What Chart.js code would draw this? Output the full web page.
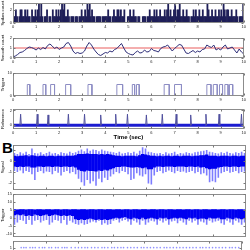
<!DOCTYPE html>
<html><head><meta charset="utf-8">
<script src="https://cdn.jsdelivr.net/npm/chart.js@4.4.1/dist/chart.umd.min.js"></script>
<style>
body{margin:0;width:250px;height:250px;overflow:hidden;background:#fff;position:relative}
canvas{position:absolute;left:0}
#lblB{position:absolute;left:2px;top:139px;font:bold 15px "Liberation Sans",Arial,sans-serif;color:#000}
</style></head><body>
<div id="lblB">B</div>
<canvas id="c1" width="247" height="29" style="top:0px"></canvas>
<canvas id="c2" width="247" height="30" style="top:34px"></canvas>
<canvas id="c3" width="247" height="33" style="top:69px"></canvas>
<canvas id="c4" width="247" height="36" style="top:105px"></canvas>
<canvas id="c5" width="246" height="52" style="top:141px"></canvas>
<canvas id="c6" width="246" height="50" style="top:190px"></canvas>
<canvas id="c7" width="246" height="28" style="top:237px"></canvas>
<script>
// ---------- DATA ----------
const timeTicks = [0,1,2,3,4,5,6,7,8,9,10];
const spikeBin = 0.05;
const spikeCounts = [
 1,1,2,1,0,1,2,2,1,1,2,1,2,1,1,0,2,1,1,2,
 1,2,3,1,3,1,0,1,1,2,0,1,1,0,2,1,1,2,1,2,
 1,2,3,2,3,1,1,2,1,0,1,1,1,0,1,1,0,1,1,2,
 1,1,2,1,3,2,3,1,2,1,1,0,1,1,1,1,0,1,1,1,
 1,1,2,1,1,0,1,2,1,1,2,2,1,2,1,1,2,0,0,1,
 1,2,1,1,2,1,1,0,1,1,0,0,1,1,1,0,1,1,2,1,
 1,1,2,1,2,1,1,2,1,1,1,2,1,2,3,1,2,1,1,2,
 3,1,2,2,3,1,1,2,1,1,2,1,1,0,1,1,2,1,2,1,
 1,2,1,1,2,1,1,1,3,2,1,1,2,1,1,2,1,1,2,1,
 2,1,3,2,1,2,2,1,1,2,1,1,1,2,1,0,1,1,1,3];
const spikeYTicks = [0,1,2,3];

const smoothStep = 0.1;
const smoothCount = [
 0.1,0.2,0.35,0.55,0.6,0.75,0.95,1.1,1.05,0.95,
 0.8,1.0,0.85,1.05,0.9,1.25,1.4,1.2,0.95,1.1,
 0.85,1.0,1.1,1.45,1.55,1.2,0.7,0.45,0.55,0.45,
 0.5,0.7,1.2,1.55,1.3,0.9,0.6,0.35,0.25,0.4,
 0.55,0.5,0.7,0.6,0.85,0.95,1.2,1.45,1.0,0.6,
 0.45,0.35,0.3,0.55,0.7,0.5,0.55,0.8,0.6,0.65,
 0.95,0.75,0.7,0.6,0.95,1.1,1.15,1.3,1.0,0.7,
 0.95,1.15,1.35,1.3,0.9,0.5,0.45,0.6,0.75,0.55,
 0.7,0.6,0.85,0.9,1.3,1.15,1.05,1.3,0.8,0.95,
 0.8,1.1,1.3,0.9,1.0,1.1,0.8,0.5,0.9,0.6,0.4];
const smoothThreshold = 1;
const smoothYTicks = [0,1,2];

const trigStart = [0.62,1.30,1.63,2.28,3.25,4.50,5.17,5.35,6.55,7.00,8.40,8.68,8.95,9.18,9.38];
const trigEnd   = [0.73,1.42,1.80,2.50,3.42,4.75,5.27,5.47,6.77,7.30,8.58,8.85,9.08,9.32,9.52];
const trigLevel = 5;
const trigYTicks = [0,10];

const refTimes = [0.33,1.05,1.52,2.40,3.10,3.80,4.45,4.96,5.78,6.47,7.07,7.70,8.36,8.93,9.90];
const refPeaks = [1.5,1.5,1.4,1.5,1.5,1.4,1.5,1.5,1.4,1.5,1.5,1.4,1.5,1.5,1.5];
const refYTicks = [0,2];

const bTicks = [0,1,2,3,4,5,6,7];
const bBin = 7/80;
const sigHi = [
 0.7,0.6,0.75,0.65,0.8,0.6,1.1,0.7,0.65,0.75,
 0.6,0.7,0.8,0.65,0.7,0.6,0.75,0.7,0.65,0.8,
 0.7,0.75,0.9,1.0,0.85,1.1,0.9,1.0,0.95,0.85,
 1.0,0.9,0.85,0.8,0.75,0.7,0.8,0.65,0.7,0.75,
 0.7,0.8,0.65,0.9,1.2,1.1,0.8,0.75,0.7,0.65,
 0.7,0.6,0.75,0.65,0.7,0.8,0.6,0.7,0.65,0.75,
 0.7,0.65,0.75,0.8,0.85,0.9,0.95,0.8,0.75,0.7,
 0.65,0.75,0.7,0.8,0.7,0.65,0.75,0.7,0.8,0.7];
const sigLo = [
 -0.9,-1.0,-0.85,-1.1,-0.9,-1.0,-1.2,-1.7,-1.0,-0.9,
 -1.1,-0.95,-1.0,-1.2,-0.9,-1.05,-1.3,-1.0,-0.9,-1.1,
 -1.0,-1.2,-1.6,-1.9,-2.2,-1.7,-2.0,-1.8,-2.2,-1.6,
 -1.9,-1.5,-1.7,-1.4,-1.2,-1.0,-1.1,-0.9,-1.0,-1.2,
 -1.7,-1.6,-1.1,-1.3,-1.4,-1.2,-2.0,-2.1,-1.3,-1.0,
 -0.9,-1.1,-1.0,-0.85,-1.0,-1.1,-0.9,-1.0,-0.95,-1.05,
 -1.0,-0.9,-1.1,-1.0,-1.2,-1.1,-1.3,-1.9,-1.8,-1.9,
 -1.5,-1.1,-1.0,-0.9,-1.05,-1.0,-0.9,-1.1,-1.0,-0.95];
const sigCoreHi = [
 0.45,0.4,0.45,0.45,0.5,0.4,0.5,0.45,0.4,0.45,
 0.45,0.4,0.45,0.45,0.4,0.45,0.45,0.4,0.45,0.45,
 0.45,0.5,0.6,0.6,0.6,0.65,0.6,0.6,0.6,0.55,
 0.6,0.55,0.6,0.55,0.5,0.45,0.45,0.4,0.45,0.45,
 0.45,0.45,0.4,0.5,0.6,0.55,0.5,0.45,0.45,0.4,
 0.45,0.4,0.45,0.45,0.4,0.45,0.45,0.4,0.45,0.45,
 0.45,0.4,0.45,0.45,0.5,0.5,0.55,0.45,0.45,0.45,
 0.4,0.45,0.45,0.45,0.4,0.45,0.45,0.4,0.45,0.45];
const sigCoreLo = [
 -0.5,-0.55,-0.5,-0.55,-0.5,-0.5,-0.6,-0.6,-0.5,-0.5,
 -0.55,-0.5,-0.5,-0.55,-0.5,-0.5,-0.55,-0.5,-0.5,-0.55,
 -0.5,-0.6,-0.8,-0.9,-0.95,-0.85,-0.9,-0.9,-0.95,-0.85,
 -0.9,-0.8,-0.85,-0.75,-0.65,-0.55,-0.55,-0.5,-0.5,-0.55,
 -0.6,-0.6,-0.55,-0.6,-0.65,-0.6,-0.75,-0.75,-0.6,-0.5,
 -0.5,-0.55,-0.5,-0.5,-0.5,-0.55,-0.5,-0.5,-0.5,-0.55,
 -0.5,-0.5,-0.55,-0.5,-0.6,-0.55,-0.65,-0.75,-0.7,-0.7,
 -0.6,-0.55,-0.5,-0.5,-0.55,-0.5,-0.5,-0.55,-0.5,-0.5];
const sigYTicks = [-2,-1,0,1];

const trgHi = [
 5.3,5.2,5.3,5.3,5.2,5.3,5.3,5.2,5.3,5.3,
 5.2,5.3,5.3,5.2,5.3,5.3,5.2,5.3,5.3,5.2,
 5.3,5.3,5.2,5.3,5.3,5.2,5.3,5.3,5.2,5.3,
 5.3,5.2,5.3,5.3,5.2,5.3,5.3,5.2,5.3,5.3,
 5.2,5.3,5.3,5.2,5.3,5.3,5.2,5.3,5.3,5.2,
 5.3,5.3,5.2,5.3,5.3,5.2,5.3,5.3,5.2,5.3,
 5.3,5.2,5.3,5.3,5.2,5.3,5.3,5.2,5.3,5.3,
 5.2,5.3,5.3,5.2,5.3,5.3,5.2,5.3,5.3,5.2];
const trgCoreLo = [
 1.5,2.0,1.5,2.0,1.0,1.5,1.0,2.0,1.5,1.0,
 1.5,2.0,1.0,1.5,2.0,1.5,1.0,1.5,1.0,1.5,
 1.0,-1.0,-1.5,-1.0,-1.5,-1.0,-0.5,-1.0,-1.5,-1.0,
 -1.5,-1.0,-1.5,-1.0,-0.5,0.0,-0.5,0.0,0.5,-0.5,
 -1.0,0.0,-0.5,-1.0,0.0,-1.0,-0.5,0.0,-0.5,-1.0,
 0.0,-0.5,0.0,-1.0,-0.5,0.0,-0.5,0.0,-0.5,-1.0,
 0.0,-0.5,0.0,-1.0,-0.5,-0.5,-1.0,0.0,-0.5,-0.5,
 0.0,-1.0,-1.0,0.0,-0.5,-1.0,0.0,-0.5,-1.0,-0.5];
const trgLo = [
 -4.5,-3,-1.5,-2,-4,-1.5,-4.5,-2,-1.5,-3,
 -2,-1.5,-4.5,-3,-1.5,-2,-3.5,-1.5,-4.5,-2,
 -3,-4,-4.5,-3.5,-4.5,-4,-3,-2.5,-3,-2,
 -4.5,-3.5,-4.5,-4,-2,-1.5,-3,-2,-1.5,-2.5,
 -4.5,-2,-3,-4.5,-2,-4.5,-3,-2,-2.5,-4.5,
 -2,-3,-2,-4.5,-2.5,-2,-3.5,-2,-3,-4.5,
 -2,-3,-2,-4.5,-2.5,-3,-4.5,-2,-3,-2.5,
 -2,-3.5,-4.5,-2,-3,-4.5,-2,-3,-4.5,-3];
const trgYTicks = [-10,-5,0,5,10,15];

const evtX = [0.25,0.33,0.4,0.52,0.6,0.68,0.8,0.9,0.97,1.1,1.18,1.3,1.38,1.5,1.58,1.65,1.78,1.9,2.0,2.1,2.2,2.28,2.4,2.5,2.6,2.72,2.8,2.9,3.02,3.1,3.2,3.3,3.38,3.5,3.6,3.7,3.8,3.92,4.0,4.1,4.2,4.3,4.4,4.5,4.62,4.7,4.8,4.9,5.0,5.1,5.2,5.3,5.4,5.5,5.6,5.72,5.8,5.9,6.0,6.1,6.2,6.3,6.4,6.5,6.62,6.7,6.8,6.9];
const evtLevel = 1;
const evtYTicks = [1];

// ---------- HELPERS ----------
Chart.defaults.font.family = '"Liberation Sans", Arial, sans-serif';
const boxPlugin = {
  id:'box',
  afterDatasetsDraw(chart){
    const {ctx, chartArea:a} = chart; const x = chart.scales.x, y = chart.scales.y;
    ctx.save();
    ctx.strokeStyle = '#8c8c8c'; ctx.lineWidth = 1;
    const L = Math.round(a.left)+0.5, T = Math.round(a.top)+0.5, R = Math.round(a.right)-0.5, B = Math.round(a.bottom)-0.5;
    ctx.strokeRect(L, T, R-L, B-T);
    ctx.strokeStyle = '#777'; ctx.beginPath();
    x.ticks.forEach(t=>{const p=Math.round(x.getPixelForValue(t.value))+0.5; ctx.moveTo(p,T); ctx.lineTo(p,T+2); ctx.moveTo(p,B); ctx.lineTo(p,B-2);});
    y.ticks.forEach(t=>{const p=Math.round(y.getPixelForValue(t.value))+0.5; ctx.moveTo(L,p); ctx.lineTo(L+2,p); ctx.moveTo(R,p); ctx.lineTo(R-2,p);});
    ctx.stroke(); ctx.restore();
  }
};
function makePanel(id, o){
  new Chart(document.getElementById(id), {
    type:'line',
    data:{datasets:o.datasets},
    plugins:[boxPlugin],
    options:{
      responsive:false, animation:false, events:[],
      layout:{padding:{top:o.padTop||0,right:o.padRight||0,left:0,bottom:0}},
      plugins:{legend:{display:false}, tooltip:{enabled:false}},
      scales:{
        x:{type:'linear', min:o.xMin, max:o.xMax, offset:false,
          grid:{display:false, drawTicks:false}, border:{display:false},
          ticks:{display:o.xLabels, font:{size:4}, color:'#222', padding:1, maxRotation:0, autoSkip:false},
          title:{display:!!o.xTitle, text:o.xTitle||'', font:{size:6, weight:'bold'}, color:'#000', padding:{top:0,bottom:0}},
          afterBuildTicks:s=>{s.ticks=o.xTicks.map(v=>({value:v}));},
          afterFit:s=>{s.height=o.xh;}},
        y:{type:'linear', min:o.yMin, max:o.yMax,
          grid:{display:false, drawTicks:false}, border:{display:false},
          ticks:{font:{size:4}, color:'#222', padding:1},
          title:{display:!!o.yTitle, text:o.yTitle||'', font:{size:4.3}, color:'#000', padding:0},
          afterBuildTicks:s=>{s.ticks=o.yTicks.map(v=>({value:v}));},
          afterFit:s=>{s.width=13;}}
      }
    }
  });
}
function lineDS(points, color, width){
  return {type:'line', data:points, borderColor:color, borderWidth:width, pointRadius:0, fill:false, tension:0, spanGaps:false};
}
function bandDS(lo, hi, color, bp){
  return {type:'bar', data:hi.map((h,i)=>({x:(i+0.5)*bBin, y:[lo[i],h]})), backgroundColor:color, borderWidth:0, barPercentage:bp, categoryPercentage:1, grouped:false};
}
// Note: Chart.js paints the first dataset last (on top).

// Panel 1: spikes count
makePanel('c1', {padTop:2,xMin:0,xMax:10,xTicks:timeTicks,xLabels:true,xh:6,yMin:0,yMax:3,yTicks:spikeYTicks,yTitle:'Spikes count',padRight:1,
  datasets:[{type:'bar', data:spikeCounts.map((c,i)=>({x:(i+0.5)*spikeBin, y:c})), backgroundColor:'#1e1e58', borderWidth:0, barPercentage:1, categoryPercentage:1}]});

// Panel 2: smooth count
makePanel('c2', {padTop:4,xMin:0,xMax:10,xTicks:timeTicks,xLabels:true,xh:6,yMin:0,yMax:2,yTicks:smoothYTicks,yTitle:'Smooth count',padRight:1,
  datasets:[
    lineDS(smoothCount.map((v,i)=>({x:i*smoothStep, y:v})), '#2e2e78', 1),
    lineDS([{x:0,y:smoothThreshold},{x:10,y:smoothThreshold}], 'rgba(240,140,140,0.7)', 2)
  ]});

// Panel 3: trigger
const trigPts = [];
trigStart.forEach((s,i)=>{ trigPts.push({x:s,y:0},{x:s,y:trigLevel},{x:trigEnd[i],y:trigLevel},{x:trigEnd[i],y:0},{x:trigEnd[i],y:null}); });
makePanel('c3', {padTop:4,xMin:0,xMax:10,xTicks:timeTicks,xLabels:true,xh:6,yMin:0,yMax:10,yTicks:trigYTicks,yTitle:'Trigger',padRight:1,
  datasets:[lineDS(trigPts, '#8d8dc4', 1)]});

// Panel 4: reference
const refPts = [];
refTimes.forEach((t,i)=>{ refPts.push({x:t-0.03,y:0},{x:t,y:refPeaks[i]},{x:t+0.03,y:0},{x:t+0.03,y:null}); });
makePanel('c4', {padTop:4,xMin:0,xMax:10,xTicks:timeTicks,xLabels:true,xh:12,xTitle:'Time (sec)',yMin:-0.5,yMax:2.2,yTicks:refYTicks,yTitle:'Reference',padRight:1,
  datasets:[
    lineDS(refPts, '#50509e', 1),
    lineDS([{x:0,y:0},{x:10,y:0}], '#1c1cd0', 3)
  ]});

// Panel 5: signal
makePanel('c5', {padTop:4,xMin:0,xMax:7,xTicks:bTicks,xLabels:false,xh:3,yMin:-2.55,yMax:1.4,yTicks:sigYTicks,yTitle:'Signal',
  datasets:[ bandDS(sigCoreLo, sigCoreHi, '#0000f0', 1.15), bandDS(sigLo, sigHi, '#7c7cff', 0.55) ]});

// Panel 6: trigger (B)
makePanel('c6', {padTop:4,xMin:0,xMax:7,xTicks:bTicks,xLabels:false,xh:3,yMin:-12,yMax:15,yTicks:trgYTicks,yTitle:'Trigger',
  datasets:[ bandDS(trgCoreLo, trgHi, '#0000f0', 1.15), bandDS(trgLo, trgHi, '#7c7cff', 0.55) ]});

// Panel 7: events (partially visible)
makePanel('c7', {padTop:4,xMin:0,xMax:7,xTicks:bTicks,xLabels:false,xh:3,yMin:0,yMax:1.5,yTicks:evtYTicks,yTitle:'',
  datasets:[{type:'line', showLine:false, data:evtX.map(v=>({x:v,y:evtLevel})), pointRadius:0.8, pointBackgroundColor:'#8f8fff', pointBorderWidth:0}]});
</script>
</body></html>
